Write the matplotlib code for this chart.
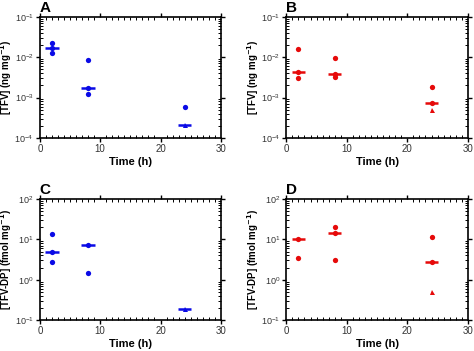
import matplotlib
matplotlib.use("Agg")
import matplotlib.pyplot as plt
from matplotlib.ticker import LogLocator, NullFormatter, MultipleLocator

plt.rcParams['font.family'] = ['Liberation Sans', 'DejaVu Sans']
plt.rcParams['mathtext.default'] = 'bf'

# data: dots, triangle (below LOQ) points, and medians per time point
times = [2, 8, 24]

a_dots = [[0.0227, 0.0125, 0.0169], [0.0087, 0.00125, 0.00172], [0.00057]]
a_tri = [[], [], [0.000204]]
a_med = [0.0169, 0.00172, 0.000204]

b_dots = [[0.016, 0.00305, 0.0043], [0.0098, 0.0032, 0.0038], [0.0018, 0.00072]]
b_tri = [[], [], [0.0005]]
b_med = [0.0043, 0.0038, 0.00072]

c_dots = [[13.5, 2.7, 4.9], [7.2, 1.5], []]
c_tri = [[], [], [0.19]]
c_med = [4.9, 7.2, 0.19]

d_dots = [[10.4, 3.4], [20.0, 3.0, 14.3], [11.6, 2.7]]
d_tri = [[], [], [0.5]]
d_med = [10.4, 14.3, 2.7]

BLUE = '#0a0ae6'
RED = '#e60a0a'

fig = plt.figure(figsize=(4.74, 3.51), dpi=100)

panels = [
    ('A', [0.084, 0.607, 0.382, 0.345], a_dots, a_tri, a_med, BLUE, (1e-4, 1e-1), '[TFV] (ng mg$^{-1}$)'),
    ('B', [0.604, 0.607, 0.383, 0.345], b_dots, b_tri, b_med, RED, (1e-4, 1e-1), '[TFV] (ng mg$^{-1}$)'),
    ('C', [0.084, 0.088, 0.382, 0.345], c_dots, c_tri, c_med, BLUE, (1e-1, 1e2), '[TFV-DP] (fmol mg$^{-1}$)'),
    ('D', [0.604, 0.088, 0.383, 0.345], d_dots, d_tri, d_med, RED, (1e-1, 1e2), '[TFV-DP] (fmol mg$^{-1}$)'),
]

for letter, rect, dots, tri, med, col, ylim, ylab in panels:
    ax = fig.add_axes(rect)
    for t, ds, ts, m in zip(times, dots, tri, med):
        if ds:
            ax.plot([t] * len(ds), ds, 'o', color=col, ms=3.8, mew=0)
        if ts:
            ax.plot([t] * len(ts), ts, '^', color=col, ms=3.6, mew=0)
        ax.plot([t - 1.1, t + 1.1], [m, m], '-', color=col, lw=1.8,
                solid_capstyle='butt')
    ax.set_yscale('log')
    ax.set_xlim(0, 30)
    ax.set_ylim(*ylim)
    ax.xaxis.set_major_locator(MultipleLocator(10))
    ax.xaxis.set_minor_locator(MultipleLocator(1))
    ax.yaxis.set_major_locator(LogLocator(base=10, numticks=10))
    ax.yaxis.set_minor_locator(LogLocator(base=10, subs=range(2, 10), numticks=10))
    ax.yaxis.set_minor_formatter(NullFormatter())
    ax.tick_params(which='major', direction='out', length=3, width=1,
                   labelsize=6.5, labelcolor='#333333', pad=1.5,
                   top=True, right=True)
    ax.tick_params(which='minor', direction='in', length=2, width=0.7,
                   top=True, right=True)
    ax.tick_params(axis='x', which='major', labelsize=7)
    for s in ax.spines.values():
        s.set_linewidth(1.2)
    ax.set_xlabel('Time (h)', fontsize=8, fontweight='bold', labelpad=2)
    ax.set_ylabel(ylab, fontsize=7, fontweight='bold')
    ax.yaxis.set_label_coords(-0.14, 0.5)
    ax.text(0.0, 1.015, letter, transform=ax.transAxes, fontsize=11,
            fontweight='bold', ha='left', va='bottom')

fig.savefig('out.png', dpi=100)
